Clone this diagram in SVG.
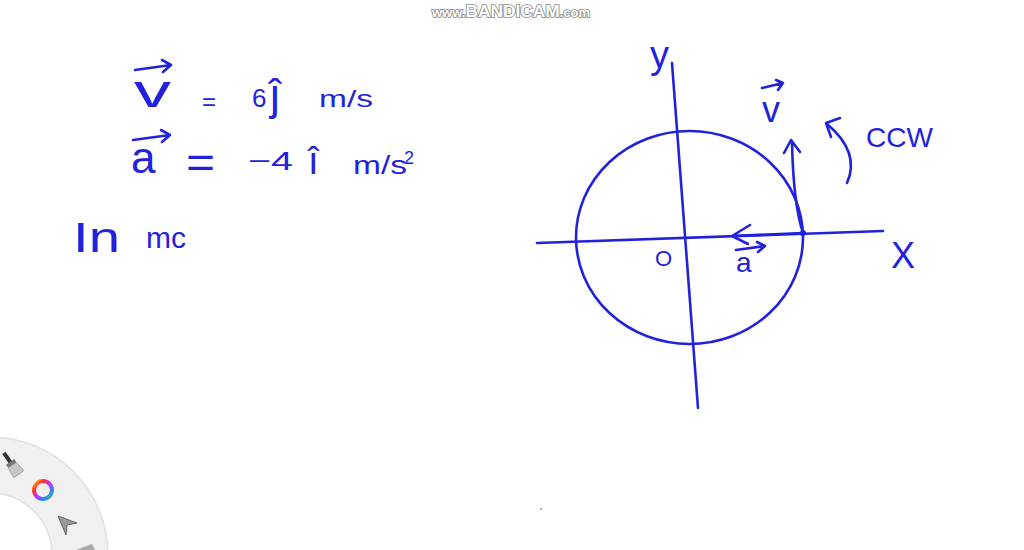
<svg xmlns="http://www.w3.org/2000/svg" width="1024" height="550" viewBox="0 0 1024 550">
<style>
.ink{fill:none;stroke:#2222dc;stroke-width:2.6;stroke-linecap:round;stroke-linejoin:round}
.t{fill:#2222dc;font-family:"Liberation Sans","DejaVu Sans",sans-serif}
.wm{font-family:"Liberation Sans",Arial,sans-serif;font-weight:bold;fill:#ffffff;stroke:#8a8a8a;stroke-width:1.6;paint-order:stroke}
</style>
<rect x="0" y="0" width="1024" height="550" fill="#ffffff"/>

<g id="watermark">
<text class="wm" x="432" y="17" textLength="158" lengthAdjust="spacingAndGlyphs"><tspan font-size="12">www.</tspan><tspan font-size="16">BANDICAM</tspan><tspan font-size="12">.com</tspan></text>
</g>

<g id="equation-v">
<path class="ink" d="M135,70 L171,65 M162,60 L171,65 L163,72"/>
<text class="t" x="134" y="107" font-size="46" textLength="37" lengthAdjust="spacingAndGlyphs">v</text>
<text class="t" x="202" y="110" font-size="24">=</text>
<text class="t" x="252" y="107" font-size="26">6</text>
<text class="t" x="270" y="110" font-size="44">ĵ</text>
<text class="t" x="319" y="107" font-size="24" textLength="54" lengthAdjust="spacingAndGlyphs">m/s</text>
</g>

<g id="equation-a">
<path class="ink" d="M133,140 L170,135 M161,130 L170,135 L162,142"/>
<text class="t" x="131" y="173" font-size="44">a</text>
<text class="t" x="186" y="178" font-size="44" textLength="29" lengthAdjust="spacingAndGlyphs">=</text>
<text class="t" x="248" y="170" font-size="26" textLength="45" lengthAdjust="spacingAndGlyphs">−4</text>
<text class="t" x="308" y="174" font-size="38">î</text>
<text class="t" x="353" y="174" font-size="26" textLength="54" lengthAdjust="spacingAndGlyphs">m/s</text>
<text class="t" x="404" y="164" font-size="18">2</text>
</g>

<g id="note">
<text class="t" x="73" y="252" font-size="42" textLength="47" lengthAdjust="spacingAndGlyphs">In</text>
<text class="t" x="146" y="248" font-size="30">mc</text>
</g>

<g id="figure">
<ellipse class="ink" cx="689.5" cy="237.5" rx="113.5" ry="106.5"/>
<path class="ink" d="M537,243 L883,231"/>
<path class="ink" d="M672,63 L698,408"/>
<text class="t" x="650" y="68" font-size="38">y</text>
<text class="t" x="891" y="268" font-size="36">X</text>
<text class="t" x="655" y="266" font-size="22">O</text>
</g>

<g id="connectors">
<path class="ink" d="M803,233 L733,236 M750,225 L732,236 L748,244"/>
<path class="ink" d="M803,233 C797,215 793,190 792,142 M784,153 L791,140 L800,152"/>
<path class="ink" d="M847,183 C855,165 852,145 827,124 M840,118 L826,123 L831,137"/>
<circle cx="803" cy="233" r="3" fill="#2222dc"/>
</g>

<g id="labels">
<path class="ink" d="M762,88 L783,83 M776,80 L783,83 L778,90"/>
<text class="t" x="762" y="122" font-size="36">v</text>
<path class="ink" d="M736,250 L765,246 M757,242 L765,246 L758,252"/>
<text class="t" x="736" y="272" font-size="28">a</text>
<text class="t" x="866" y="147" font-size="28">CCW</text>
</g>

<defs>
<linearGradient id="hue" x1="0" y1="0" x2="1" y2="1">
<stop offset="0" stop-color="#ffcc00"/>
<stop offset="0.25" stop-color="#ff3030"/>
<stop offset="0.5" stop-color="#c030ff"/>
<stop offset="0.75" stop-color="#3080ff"/>
<stop offset="1" stop-color="#30d060"/>
</linearGradient>
</defs>

<g id="toolbar">
<path d="M-10,437 A118,118 0 0 1 108,555 L52,555 A62,62 0 0 0 -10,493 Z" fill="#f0f0f0" stroke="#e2e2e2" stroke-width="1.5"/>
<g transform="translate(13,466) rotate(-35)">
<rect x="-2" y="-16" width="4" height="12" fill="#333"/>
<rect x="-5" y="-5" width="10" height="4" fill="#777"/>
<path d="M-5,-1 L5,-1 L6,10 L-6,10 Z" fill="#c8c8c8" stroke="#999" stroke-width="0.8"/>
</g>
<circle cx="43" cy="490" r="9" fill="none" stroke="url(#hue)" stroke-width="4"/>
<path d="M58,516 L77,523 L67,525 L66,535 Z" fill="#9a9a9a" stroke="#666" stroke-width="1"/>
<path d="M76,550 L92,544 L95,550 Z" fill="#aaaaaa"/>
</g>

<circle cx="541" cy="509" r="1" fill="#8c8cc8"/>
</svg>
